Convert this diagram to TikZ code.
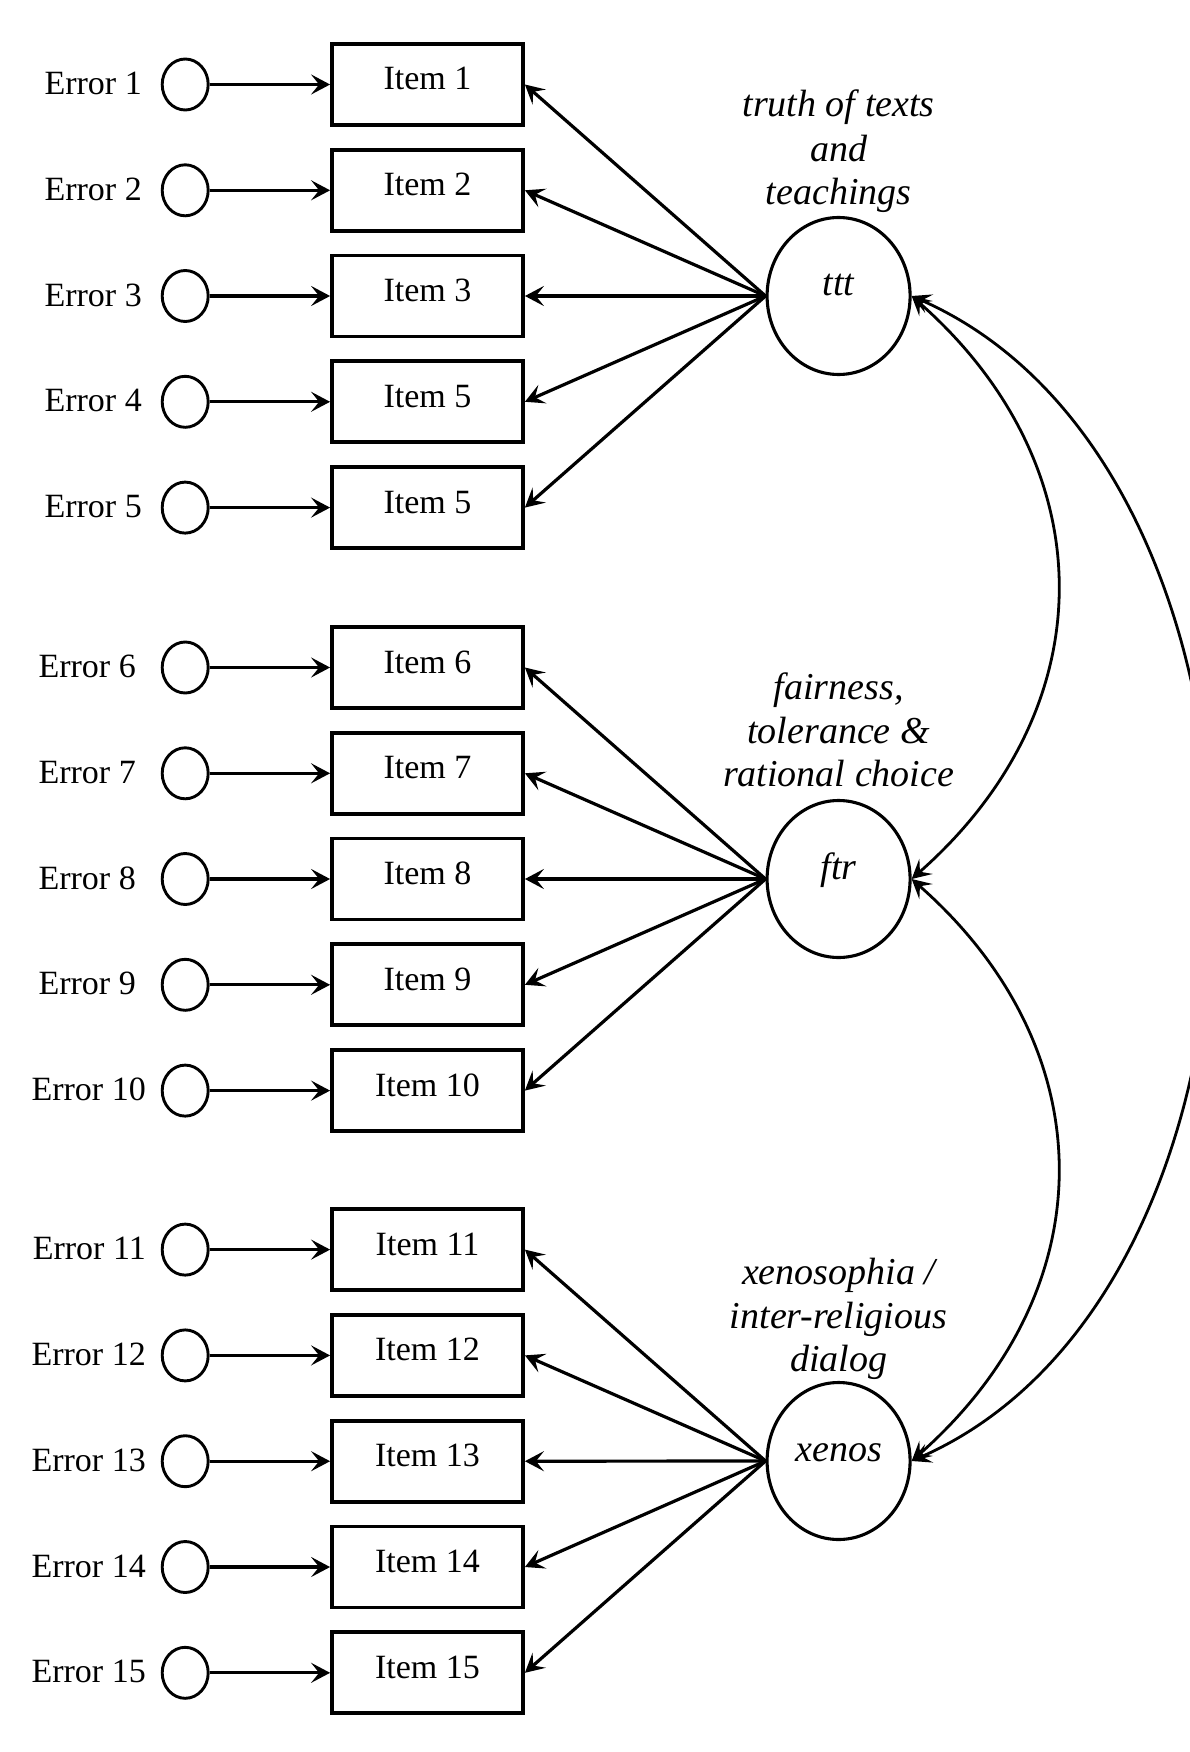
\documentclass[tikz,border=0pt]{standalone}
\usepackage{fontspec}
\setmainfont{Liberation Serif}
\usetikzlibrary{arrows.meta,shapes.geometric}
\begin{document}
\begin{tikzpicture}[x=1pt,y=-1pt,
  every node/.style={inner sep=0pt},
  itembox/.style={draw, line width=3.8pt, minimum width=191pt, minimum height=81pt,
    font=\fontsize{34pt}{40pt}\selectfont, text height=25pt, text depth=14pt},
  errc/.style={draw, ellipse, line width=2.9pt, minimum width=46pt, minimum height=51pt},
  lat/.style={draw, ellipse, line width=3.1pt, minimum width=143pt, minimum height=157pt},
  errlab/.style={anchor=base east, font=\fontsize{34pt}{40pt}\selectfont},
  latlab/.style={anchor=base, font=\fontsize{38pt}{44pt}\selectfont\itshape},
  tipa/.style={-{Stealth[length=19pt,width=20pt,inset=8pt]}, line width=3.2pt},
  cov/.style={{Stealth[length=19pt,width=20pt,inset=8pt]}-{Stealth[length=19pt,width=20pt,inset=8pt]}, line width=2.8pt}
]
\useasboundingbox (0,0) rectangle (1190,1752);
\clip (0,0) rectangle (1190,1752);

% items, errors
\foreach \i/\y/\lab/\ex in {
  1/84.5/1/142, 2/190.3/2/142, 3/296/3/142, 4/401.8/5/142, 5/507.6/5/142,
  6/667.5/6/136, 7/773.3/7/136, 8/879/8/136, 9/984.8/9/136, 10/1090.6/10/146,
  11/1249.6/11/146, 12/1355.4/12/146, 13/1461.2/13/146, 14/1567/14/146, 15/1672.8/15/146}{
  \node[itembox] (item\i) at (427.5,\y) {Item \lab};
  \node[errc] (e\i) at (185.2,\y) {};
  \node[errlab] (el\i) at (\ex,\y+10) {Error \i};
  \draw[tipa] (e\i.east) -- (item\i.west);
}

% latent variables
\node[lat] (ttt) at (838.6,296) {};
\node[lat] (ftr) at (838.6,879) {};
\node[lat] (xenos) at (838.6,1461) {};
\node[latlab] (tttt) at (838.6,296) {ttt};
\node[latlab] (ftrt) at (838.6,879) {ftr};
\node[latlab] (xenost) at (838.6,1461) {xenos};

\node[latlab] (la1) at (838.6,117) {truth of texts};
\node[latlab] (la2) at (838.6,162) {and};
\node[latlab] (la3) at (838.6,205) {teachings};
\node[latlab] (lb1) at (838.6,699) {fairness,};
\node[latlab] (lb2) at (838.6,743) {tolerance \&};
\node[latlab] (lb3) at (838.6,786) {rational choice};
\node[latlab] (lc1) at (838.6,1284) {xenosophia /};
\node[latlab] (lc2) at (838.6,1328) {inter-religious};
\node[latlab] (lc3) at (838.6,1371) {dialog};

% loadings
\foreach \i in {1,...,5}{\draw[tipa] (ttt.west) -- (item\i.east);}
\foreach \i in {6,...,10}{\draw[tipa] (ftr.west) -- (item\i.east);}
\foreach \i in {11,...,15}{\draw[tipa] (xenos.west) -- (item\i.east);}

% covariances
\draw[cov] (ttt.east) .. controls (1106,467) and (1106,708) .. (ftr.east);
\draw[cov] (ftr.east) .. controls (1106,1050) and (1106,1290) .. (xenos.east);
\draw[cov] (ttt.east) .. controls (1310,471) and (1310,1286) .. (xenos.east);
\end{tikzpicture}
\end{document}
